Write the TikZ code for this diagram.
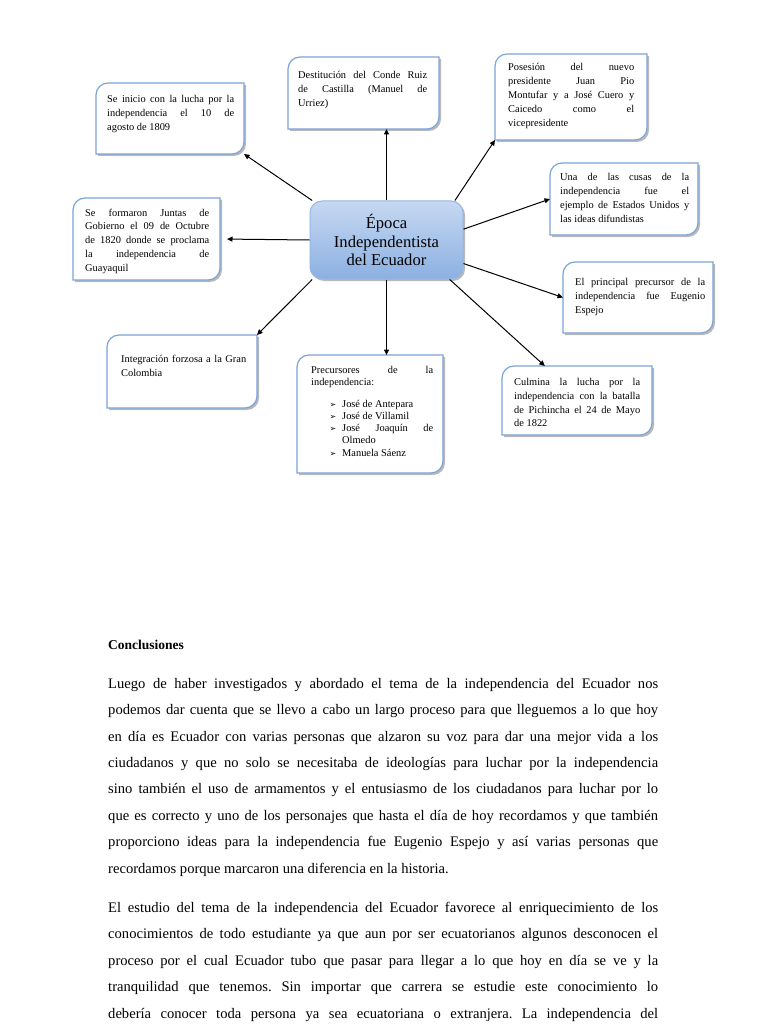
\documentclass[tikz,border=0pt]{standalone}
\usepackage{fontspec}
\setmainfont{Liberation Serif}
\newfontfamily\dingfont{DejaVu Sans}
\usetikzlibrary{arrows.meta,shadows}

\setlength{\parindent}{0pt}
\frenchspacing
\hyphenpenalty=10000
\tolerance=10000
\hbadness=10000

\definecolor{bordeazul}{RGB}{122,164,218}
\definecolor{azulclaro}{RGB}{198,216,241}
\definecolor{azulmedio}{RGB}{140,176,226}

% marco con esquinas diagonales redondeadas
\newcommand{\marco}[1]{%
  \draw[borde] (#1.north east) -- ([yshift=12pt]#1.south east)
    arc[start angle=0,end angle=-90,radius=12pt] -- (#1.south west)
    -- ([yshift=-12pt]#1.north west)
    arc[start angle=180,end angle=90,radius=12pt] -- cycle;}
\newcommand{\vineta}{\noindent\llap{{\dingfont\fontsize{8}{8}\selectfont ➢}\hspace{6pt}}}

\begin{document}
\begin{tikzpicture}[x=1pt,y=-1pt,
    caja/.style={inner sep=0pt, outer sep=0pt, anchor=north west},
    borde/.style={draw=bordeazul, line width=1.2pt, fill=white,
      drop shadow={shadow xshift=2pt, shadow yshift=-2pt, opacity=.55}},
    texto/.style={anchor=north west, inner sep=0pt, align=justify,
      font=\fontsize{10.4}{13.8}\selectfont},
    flecha/.style={-{Triangle[length=5.5pt,width=5pt]}, line width=1pt},
    parrafo/.style={anchor=north west, inner sep=0pt, text width=550pt, align=justify,
      font=\fontsize{14.6}{26.4}\selectfont}]
  \fill[white] (0,0) rectangle (768,1024);
  \useasboundingbox (0,0) rectangle (768,1024);

  % cajas
  \node[caja, minimum width=148pt, minimum height=71pt] (inicio) at (96,83) {};
  \node[caja, minimum width=151pt, minimum height=72pt] (destitucion) at (288,57) {};
  \node[caja, minimum width=152pt, minimum height=86pt] (posesion) at (495,54) {};
  \node[caja, minimum width=148pt, minimum height=72pt] (causas) at (550,163) {};
  \node[caja, minimum width=147pt, minimum height=82pt] (juntas) at (73,198) {};
  \node[caja, minimum width=150pt, minimum height=71pt] (espejo) at (563,262) {};
  \node[caja, minimum width=150pt, minimum height=73pt] (colombia) at (107,335) {};
  \node[caja, minimum width=146pt, minimum height=118pt] (precursores) at (297,355) {};
  \node[caja, minimum width=150pt, minimum height=69pt] (culmina) at (502,366) {};
  \foreach \c in {inicio,destitucion,posesion,causas,juntas,espejo,colombia,precursores,culmina}
    {\marco{\c}}

  \node[texto, text width=127pt] (t-inicio) at (107,95)
    {Se inicio con la lucha por la\linebreak independencia el 10 de\linebreak agosto de 1809};
  \node[texto, text width=129pt] (t-destitucion) at (298,71.5)
    {Destitución del Conde Ruiz\linebreak de Castilla (Manuel de\linebreak Urriez)};
  \node[texto, text width=126pt] (t-posesion) at (508,63.5)
    {Posesión del nuevo\linebreak presidente Juan Pio\linebreak Montufar y a José Cuero y\linebreak
     Caicedo como el\linebreak vicepresidente};
  \node[texto, text width=129pt] (t-causas) at (560,173.5)
    {Una de las cusas de la\linebreak independencia fue el\linebreak ejemplo de Estados Unidos y\linebreak
     las ideas difundistas};
  \node[texto, text width=124pt] (t-juntas) at (85,208.5)
    {Se formaron Juntas de\linebreak Gobierno el 09 de Octubre\linebreak de 1820 donde se proclama\linebreak
     la independencia de\linebreak Guayaquil};
  \node[texto, text width=130pt] (t-espejo) at (575,278)
    {El principal precursor de la\linebreak independencia fue Eugenio\linebreak Espejo};
  \node[texto, text width=125pt] (t-colombia) at (121,355)
    {Integración forzosa a la Gran\linebreak Colombia};
  \node[texto, text width=122pt, font=\fontsize{10.4}{12.3}\selectfont] (t-precursores) at (311,366)
    {Precursores de la\linebreak independencia:\par\vskip 9pt
     \leftskip=31pt
     \vineta José de Antepara\par
     \vineta José de Villamil\par
     \vineta José Joaquín de\linebreak Olmedo\par
     \vineta Manuela Sáenz\par};
  \node[texto, text width=126pt] (t-culmina) at (514,378)
    {Culmina la lucha por la\linebreak independencia con la batalla\linebreak de Pichincha el 24 de Mayo\linebreak
     de 1822};

  % nodo central
  \node[draw=bordeazul!80, line width=1pt, rounded corners=12pt,
    top color=azulclaro, bottom color=azulmedio,
    minimum width=153pt, minimum height=78pt, align=center,
    font=\fontsize{16.6}{18.8}\selectfont,
    drop shadow={shadow xshift=2pt, shadow yshift=-2pt, opacity=.55}]
    (centro) at (386.5,240) {Época\\Independentista\\del Ecuador};

  % flechas
  \draw[flecha] (centro.152) -- (inicio.south east);
  \draw[flecha] (centro.north) -- (centro.north |- destitucion.south);
  \draw[flecha] (centro.30) -- (posesion.south west);
  \draw[flecha] (centro.8) -- (causas.west);
  \draw[flecha, shorten >=7pt] (centro.west) -- (juntas.east);
  \draw[flecha] (centro.-17) -- (espejo.west);
  \draw[flecha] (centro.208) -- (colombia.north east);
  \draw[flecha] (centro.south) -- (centro.south |- precursores.north);
  \draw[flecha] (centro.-32) -- (culmina.133);

  % conclusiones
  \node[anchor=north west, inner sep=0pt, font=\fontsize{13.5}{16}\selectfont\bfseries]
    (titulo) at (108,640) {Conclusiones};
  \node[parrafo] (p1) at (108,678)
    {Luego de haber investigados y abordado el tema de la independencia del Ecuador nos\linebreak
     podemos dar cuenta que se llevo a cabo un largo proceso para que lleguemos a lo que hoy\linebreak
     en día es Ecuador con varias personas que alzaron su voz para dar una mejor vida a los\linebreak
     ciudadanos y que no solo se necesitaba de ideologías para luchar por la independencia\linebreak
     sino también el uso de armamentos y el entusiasmo de los ciudadanos para luchar por lo\linebreak
     que es correcto y uno de los personajes que hasta el día de hoy recordamos y que también\linebreak
     proporciono ideas para la independencia fue Eugenio Espejo y así varias personas que\linebreak
     recordamos porque marcaron una diferencia en la historia.};
  \node[parrafo] (p2) at (108,902)
    {\parfillskip=0pt
     El estudio del tema de la independencia del Ecuador favorece al enriquecimiento de los\linebreak
     conocimientos de todo estudiante ya que aun por ser ecuatorianos algunos desconocen el\linebreak
     proceso por el cual Ecuador tubo que pasar para llegar a lo que hoy en día se ve y la\linebreak
     tranquilidad que tenemos. Sin importar que carrera se estudie este conocimiento lo\linebreak
     debería conocer toda persona ya sea ecuatoriana o extranjera. La independencia del\par};
\end{tikzpicture}
\end{document}
